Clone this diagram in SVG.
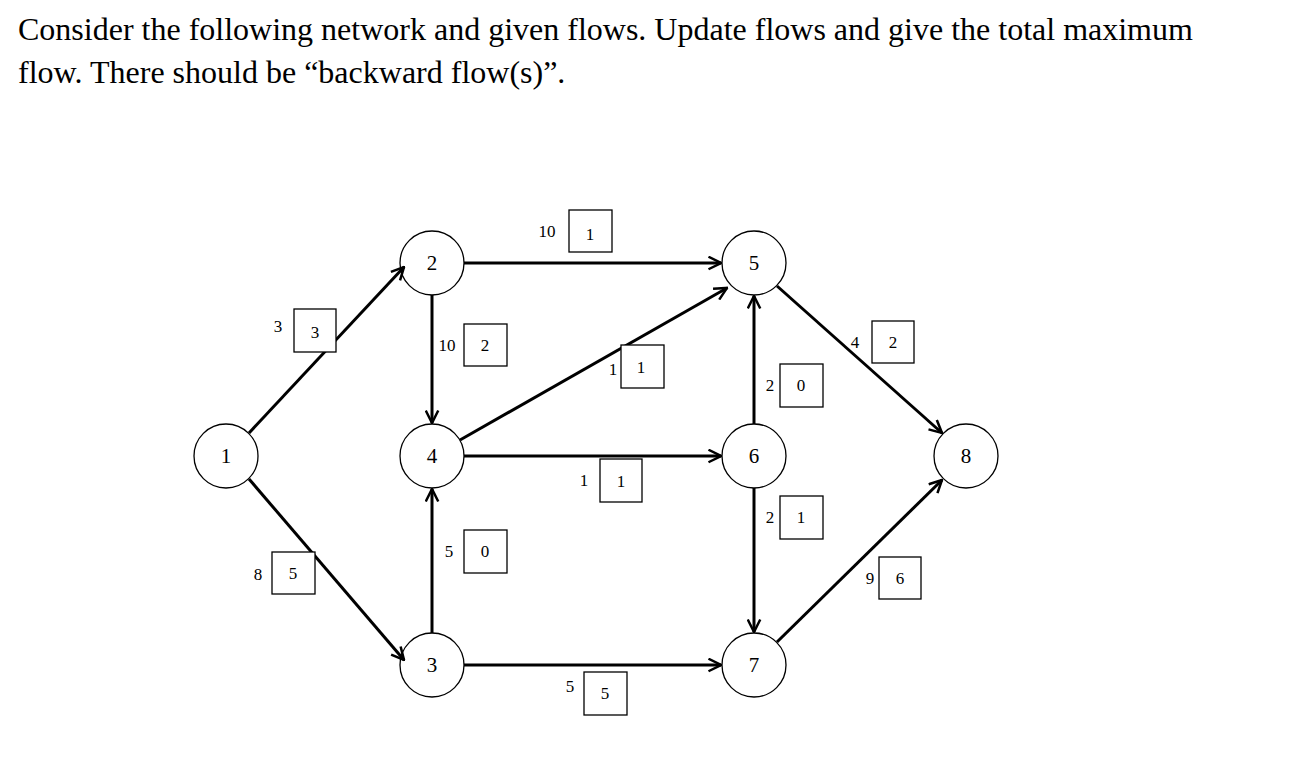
<svg xmlns="http://www.w3.org/2000/svg" width="1314" height="776" viewBox="0 0 1314 776">
<style>
.t{font-family:"Liberation Serif",serif;font-size:32px;fill:#000}
.n circle{fill:#fff;stroke:#000;stroke-width:1.3}
.n text{font-family:"Liberation Serif",serif;font-size:21px;text-anchor:middle}
.e line{stroke:#000;stroke-width:3;marker-end:url(#a)}
.l rect{fill:#fff;stroke:#000;stroke-width:1.3}
.l text{font-family:"Liberation Serif",serif;font-size:17px;text-anchor:middle}
</style>
<defs><marker id="a" viewBox="0 0 12 12" refX="11" refY="6" markerWidth="5" markerHeight="5" orient="auto" markerUnits="strokeWidth"><path d="M1,1 L11,6 L1,11" fill="none" stroke="#000" stroke-width="2"/></marker></defs>
<rect width="1314" height="776" fill="#fff"/>
<text class="t" x="18" y="40">Consider the following network and given flows. Update flows and give the total maximum</text>
<text class="t" x="18" y="83">flow. There should be “backward flow(s)”.</text>
<g id="n1" class="n"><circle cx="226" cy="456" r="32"/><text x="226" y="463">1</text></g>
<g id="n2" class="n"><circle cx="432" cy="263" r="32"/><text x="432" y="270">2</text></g>
<g id="n3" class="n"><circle cx="432" cy="665" r="32"/><text x="432" y="672">3</text></g>
<g id="n4" class="n"><circle cx="432" cy="456" r="32"/><text x="432" y="463">4</text></g>
<g id="n5" class="n"><circle cx="754" cy="263" r="32"/><text x="754" y="270">5</text></g>
<g id="n6" class="n"><circle cx="754" cy="456" r="32"/><text x="754" y="463">6</text></g>
<g id="n7" class="n"><circle cx="754" cy="665" r="32"/><text x="754" y="672">7</text></g>
<g id="n8" class="n"><circle cx="966" cy="456" r="32"/><text x="966" y="463">8</text></g>
<g id="edges" class="e">
<line x1="249" y1="433" x2="404" y2="267"/>
<line x1="249" y1="479" x2="404" y2="660"/>
<line x1="432" y1="295" x2="432" y2="423"/>
<line x1="432" y1="633" x2="432" y2="489"/>
<line x1="464" y1="263" x2="721" y2="263"/>
<line x1="460" y1="440" x2="727" y2="288"/>
<line x1="464" y1="456" x2="721" y2="456"/>
<line x1="464" y1="665" x2="721" y2="665"/>
<line x1="754" y1="424" x2="754" y2="296"/>
<line x1="754" y1="488" x2="754" y2="632"/>
<line x1="777" y1="286" x2="942" y2="433"/>
<line x1="777" y1="642" x2="942" y2="480"/>
</g>
<g id="labels" class="l">
<text x="547" y="237">10</text><rect x="569" y="210" width="43" height="42"/><text x="590" y="240">1</text>
<text x="278" y="332">3</text><rect x="294" y="309" width="42" height="43"/><text x="315" y="338">3</text>
<text x="447" y="351">10</text><rect x="464" y="324" width="43" height="42"/><text x="485" y="351">2</text>
<text x="613" y="375">1</text><rect x="621" y="345" width="43" height="43"/><text x="641" y="373">1</text>
<text x="584" y="486">1</text><rect x="600" y="459" width="42" height="43"/><text x="621" y="487">1</text>
<text x="770" y="391">2</text><rect x="780" y="364" width="43" height="43"/><text x="801" y="391">0</text>
<text x="855" y="348">4</text><rect x="872" y="321" width="42" height="42"/><text x="893" y="348">2</text>
<text x="770" y="523">2</text><rect x="780" y="496" width="43" height="43"/><text x="801" y="523">1</text>
<text x="449" y="557">5</text><rect x="464" y="530" width="43" height="43"/><text x="485" y="557">0</text>
<text x="258" y="580">8</text><rect x="272" y="552" width="43" height="42"/><text x="293" y="579">5</text>
<text x="870" y="584">9</text><rect x="879" y="557" width="42" height="42"/><text x="900" y="584">6</text>
<text x="570" y="692">5</text><rect x="584" y="672" width="43" height="43"/><text x="605" y="699">5</text>
</g>
</svg>
